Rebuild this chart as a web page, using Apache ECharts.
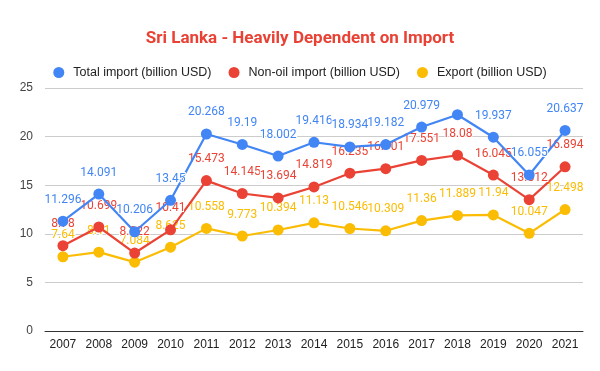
<!DOCTYPE html>
<html><head><meta charset="utf-8">
<script src="https://cdn.jsdelivr.net/npm/echarts@6/dist/echarts.min.js"></script>
<style>html,body{margin:0;padding:0;background:#fff}#c{width:600px;height:371px}</style>
</head><body><div id="c"></div>
<script>
const years = ['2007','2008','2009','2010','2011','2012','2013','2014','2015','2016','2017','2018','2019','2020','2021'];
const totalImport = [11.296,14.091,10.206,13.45,20.268,19.19,18.002,19.416,18.934,19.182,20.979,22.25,19.937,16.055,20.637];
const nonOilImport = [8.78,10.699,8.022,10.41,15.473,14.145,13.694,14.819,16.235,16.701,17.551,18.08,16.045,13.512,16.894];
const exportVals = [7.64,8.11,7.084,8.625,10.558,9.773,10.394,11.13,10.546,10.309,11.36,11.889,11.94,10.047,12.498];
const seriesNames = ['Total import (billion USD)','Non-oil import (billion USD)','Export (billion USD)'];
const colors = ['#4285f4','#ea4335','#fbbc04'];
const hiddenLabels = [[11],[],[]];

const chart = echarts.init(document.getElementById('c'));
function mk(i, vals){
  return {
    name: seriesNames[i], type:'line', data: vals.map((v,k)=> hiddenLabels[i].includes(k) ? {value:v,label:{show:false}} : v),
    symbol:'circle', symbolSize:11, showSymbol:true,
    lineStyle:{width:2.2,color:colors[i]}, itemStyle:{color:colors[i]},
    label:{show:true,position:'top',distance:10,color:colors[i],fontFamily:'Roboto',fontSize:12,
      textBorderColor:'#fff',textBorderWidth:2},
    z: 3-i
  };
}
chart.setOption({
  animation:false,
  color: colors,
  title:{text:'Sri Lanka - Heavily Dependent on Import',left:'center',top:25,
    textStyle:{color:'#e94235',fontFamily:'Roboto',fontWeight:'bold',fontSize:17}},
  legend:{top:61,left:'center',itemWidth:11,itemHeight:11,itemGap:17,icon:'circle',
    textStyle:{color:'#222',fontFamily:'Liberation Sans',fontSize:12.5,padding:[0,0,0,4]}},
  grid:{left:45,right:17,top:88,bottom:40,containLabel:false},
  xAxis:{type:'category',data:years,boundaryGap:true,
    axisLine:{show:true,lineStyle:{color:'#333'}},axisTick:{show:false},
    axisLabel:{color:'#222',fontFamily:'Liberation Sans',fontSize:12,margin:8}},
  yAxis:{type:'value',min:0,max:25,interval:5,
    axisLine:{show:false},axisTick:{show:false},
    splitLine:{lineStyle:{color:'#cccccc'}},
    axisLabel:{color:'#444',fontFamily:'Liberation Sans',fontSize:12,margin:12}},
  series:[mk(0,totalImport),mk(1,nonOilImport),mk(2,exportVals)]
});
</script></body></html>
